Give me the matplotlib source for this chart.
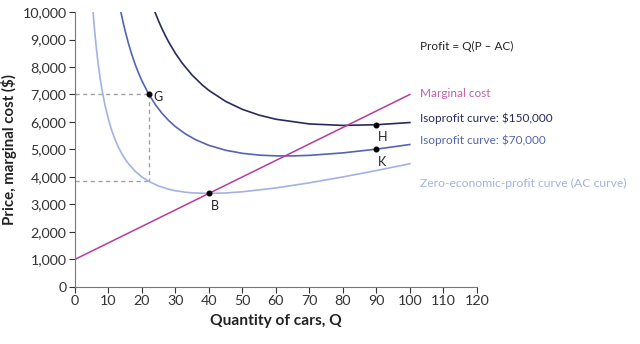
import matplotlib
matplotlib.use("Agg")
import matplotlib.pyplot as plt
from matplotlib.ticker import FuncFormatter

plt.rcParams['font.family'] = ['Lato', 'DejaVu Sans']

# Marginal cost line
mc_q = [0, 100]
mc_p = [1000, 7000]

# Zero-economic-profit curve (AC curve)
ac_q = [5.4, 5.7, 6, 6.5, 7, 7.5, 8, 9, 10, 11, 12, 13, 14, 15, 16, 18, 20, 22, 25, 28, 30,
        33, 35, 40, 45, 50, 60, 70, 80, 90, 100]
ac_p = [10050, 9592, 9180, 8580, 8067, 7625, 7240, 6603, 6100, 5694, 5360, 5082, 4849, 4650,
        4480, 4207, 4000, 3842, 3670, 3554, 3500, 3445, 3421, 3400, 3417, 3460, 3600, 3786,
        4000, 4233, 4480]

# Isoprofit curve $70,000
iso70_q = [13.5, 14, 14.5, 15, 16, 17, 18, 19, 20, 22, 24, 26, 28, 30, 33, 36, 40, 45, 50,
           55, 60, 65, 70, 80, 90, 100]
iso70_p = [10146, 9849, 9573, 9317, 8855, 8451, 8096, 7781, 7500, 7024, 6637, 6318, 6054,
           5833, 5566, 5358, 5150, 4972, 4860, 4795, 4767, 4765, 4786, 4875, 5011, 5180]

# Isoprofit curve $150,000
iso150_q = [23, 24, 25, 26, 27, 28, 30, 32, 35, 38, 40, 45, 50, 55, 60, 70, 80, 90, 100]
iso150_p = [10299, 9970, 9670, 9395, 9143, 8911, 8500, 8148, 7707, 7351, 7150, 6750, 6460,
            6250, 6100, 5929, 5875, 5900, 5980]

# labelled points
pt_names = ['G', 'B', 'H', 'K']
pt_q = [22, 40, 90, 90]
pt_p = [7000, 3400, 5900, 5000]
g_ac = 3842

c_mc = '#b83a9e'
c_150 = '#262b5c'
c_70 = '#5365b0'
c_ac = '#a3b2e0'

fig = plt.figure(figsize=(6.4, 3.44), dpi=100)
ax = fig.add_axes([0.117, 0.166, 0.628, 0.799])

# dashed guides to G
ax.plot([0, 22], [7000, 7000], ls=(0, (3, 2.5)), color='#a0a0a0', lw=1)
ax.plot([22, 22], [7000, g_ac], ls=(0, (3, 2.5)), color='#a0a0a0', lw=1)
ax.plot([0, 22], [g_ac, g_ac], ls=(0, (3, 2.5)), color='#a0a0a0', lw=1)

ax.plot(ac_q, ac_p, color=c_ac, lw=1.2)
ax.plot(iso70_q, iso70_p, color=c_70, lw=1.2)
ax.plot(iso150_q, iso150_p, color=c_150, lw=1.2)
ax.plot(mc_q, mc_p, color=c_mc, lw=1.1)

ax.scatter(pt_q, pt_p, s=11, color='black', zorder=5)
ax.text(23.5, 6900, 'G', fontsize=9, va='center', ha='left', color='#222222')
ax.text(40.5, 2950, 'B', fontsize=9, va='center', ha='left', color='#222222')
ax.text(90.5, 5450, 'H', fontsize=9, va='center', ha='left', color='#222222')
ax.text(90.5, 4550, 'K', fontsize=9, va='center', ha='left', color='#222222')

ax.text(103, 8730, 'Profit = Q(P – AC)', fontsize=8.5, va='center', color='#222222')
ax.text(103, 7030, 'Marginal cost', fontsize=8.5, va='center', color='#c060aa')
ax.text(103, 6150, 'Isoprofit curve: $150,000', fontsize=8.5, va='center', color=c_150)
ax.text(103, 5350, 'Isoprofit curve: $70,000', fontsize=8.5, va='center', color=c_70)
ax.text(103, 3780, 'Zero-economic-profit curve (AC curve)', fontsize=8.7, va='center', color=c_ac)

ax.set_xlim(0, 120)
ax.set_ylim(0, 10000)
ax.set_xticks(range(0, 121, 10))
ax.set_yticks(range(0, 10001, 1000))
ax.yaxis.set_major_formatter(FuncFormatter(lambda v, p: f'{int(v):,}'))
ax.tick_params(labelsize=10.3, colors='#333333', length=4, width=0.8, pad=2)
for s in ['top', 'right']:
    ax.spines[s].set_visible(False)
for s in ['left', 'bottom']:
    ax.spines[s].set_color('#777777')
ax.set_xlabel('Quantity of cars, Q', fontsize=11.2, fontweight='bold', color='#222222', labelpad=5)
ax.set_ylabel('Price, marginal cost ($)', fontsize=10.8, fontweight='bold', color='#222222', labelpad=4)

fig.savefig('out.png', dpi=100)
